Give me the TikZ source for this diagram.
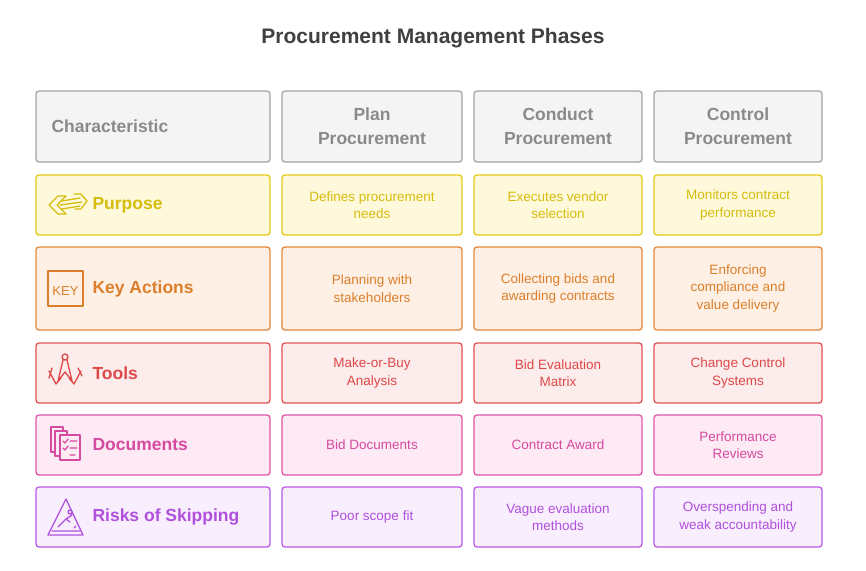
\documentclass[tikz,border=0pt]{standalone}
\usepackage{fontspec}
\setmainfont{Liberation Sans}
\begin{document}
\begin{tikzpicture}[x=1pt,y=-1pt,
 txt/.style={align=center,font=\fontsize{13.5}{17.5}\selectfont},
 lab/.style={font=\fontsize{17.5}{20}\selectfont\bfseries,anchor=west}]
\definecolor{gB}{HTML}{A3A3A3}\definecolor{gF}{HTML}{F4F4F4}\definecolor{gT}{HTML}{8A8A8A}
\definecolor{yB}{HTML}{E2C912}\definecolor{yF}{HTML}{FEF9DA}\definecolor{yT}{HTML}{D6BC0C}
\definecolor{oB}{HTML}{E0883A}\definecolor{oF}{HTML}{FEF0E4}\definecolor{oT}{HTML}{DB7F2C}
\definecolor{rB}{HTML}{E25353}\definecolor{rF}{HTML}{FDECEC}\definecolor{rT}{HTML}{DD4848}
\definecolor{pB}{HTML}{DD56A8}\definecolor{pF}{HTML}{FDEAF5}\definecolor{pT}{HTML}{D64A9F}
\definecolor{vB}{HTML}{B95CE2}\definecolor{vF}{HTML}{F9EEFD}\definecolor{vT}{HTML}{B050DC}
\useasboundingbox (0,0) rectangle (866,570);
\fill[white] (0,0) rectangle (866,570);
\node[font=\fontsize{21}{24}\selectfont\bfseries,text=black!75] (title) at (433,38) {Procurement Management Phases};
\def\row#1#2#3#4#5#6#7#8#9{%
 \filldraw[draw=#3,fill=#4,rounded corners=3pt,line width=1.3pt] (36,#1) rectangle (270,#2);
 \filldraw[draw=#3,fill=#4,rounded corners=3pt,line width=1.3pt] (282,#1) rectangle (462,#2);
 \filldraw[draw=#3,fill=#4,rounded corners=3pt,line width=1.3pt] (474,#1) rectangle (642,#2);
 \filldraw[draw=#3,fill=#4,rounded corners=3pt,line width=1.3pt] (654,#1) rectangle (822,#2);
 \node[txt,text=#5] (#6a) at (372,{(#1+#2)/2}) {#7};
 \node[txt,text=#5] (#6b) at (558,{(#1+#2)/2}) {#8};
 \node[txt,text=#5] (#6c) at (738,{(#1+#2)/2}) {#9};}
\row{91}{162}{gB}{gF}{gT}{h}{}{}{}
\node[lab,text=gT] (hl) at (48,126.5) {Characteristic};
\node[txt,text=gT,font=\fontsize{17.5}{24}\selectfont\bfseries] (h1) at (372,126.5) {Plan\\Procurement};
\node[txt,text=gT,font=\fontsize{17.5}{24}\selectfont\bfseries] (h2) at (558,126.5) {Conduct\\Procurement};
\node[txt,text=gT,font=\fontsize{17.5}{24}\selectfont\bfseries] (h3) at (738,126.5) {Control\\Procurement};
\row{175}{235}{yB}{yF}{yT}{p}{Defines procurement\\needs}{Executes vendor\\selection}{Monitors contract\\performance}
\row{247}{330}{oB}{oF}{oT}{k}{Planning with\\stakeholders}{Collecting bids and\\awarding contracts}{Enforcing\\compliance and\\value delivery}
\row{343}{403}{rB}{rF}{rT}{t}{Make-or-Buy\\Analysis}{Bid Evaluation\\Matrix}{Change Control\\Systems}
\row{415}{475}{pB}{pF}{pT}{d}{Bid Documents}{Contract Award}{Performance\\Reviews}
\row{487}{547}{vB}{vF}{vT}{r}{Poor scope fit}{Vague evaluation\\methods}{Overspending and\\weak accountability}
\node[lab,text=yT] (pl) at (89,205) {Purpose};
\node[lab,text=oT] (kl) at (89,288.5) {Key Actions};
\node[lab,text=rT] (tl) at (89,373) {Tools};
\node[lab,text=pT] (dl) at (89,445) {Documents};
\node[lab,text=vT] (rl) at (89,517) {Risks of Skipping};
\begin{scope}[line width=1.3pt,line join=round,line cap=round]
\draw[yT] (49,205) -- (58,196) -- (66,196) -- (57,205) -- (66,214) -- (58,214) -- cycle;
\draw[yT] (62,201) -- (80,198) (60,205) -- (82,202) (62,209) -- (80,206);
\draw[yT] (74,194) -- (81,194) -- (87,201) -- (81,209) -- (75,209);
\draw[oT] (48,271) rectangle (83,306);
\node[text=oT,font=\fontsize{13}{14}\selectfont] (key) at (65.5,291) {KEY};
\draw[rT] (65,357) circle (3) (63,360) -- (58,381) -- (65,372) -- (72,381) -- (67,360);
\draw[rT] (49,371) -- (56,384) -- (61,378) (81,371) -- (74,384) -- (69,378) (52,368)--(49,378) (78,368)--(82,376);
\draw[pT,fill=pF] (51,427) rectangle (63,452);
\draw[pT,fill=pF] (55,431) rectangle (67,456);
\draw[pT,fill=pF] (60,435) rectangle (80,460);
\draw[pT] (63,441)--(65,443)--(68,439) (70,441)--(77,441) (63,448)--(65,450)--(68,446) (70,448)--(77,448) (70,455)--(75,455);
\draw[vT] (66,499) -- (83,535) -- (48,535) -- cycle;
\draw[vT] (52,531) -- (80,531) (70,512) circle (2) (58,527) -- (66,519) -- (70,522) (66,519) -- (72,515) (74,528)--(76,526);
\end{scope}
\end{tikzpicture}
\end{document}
